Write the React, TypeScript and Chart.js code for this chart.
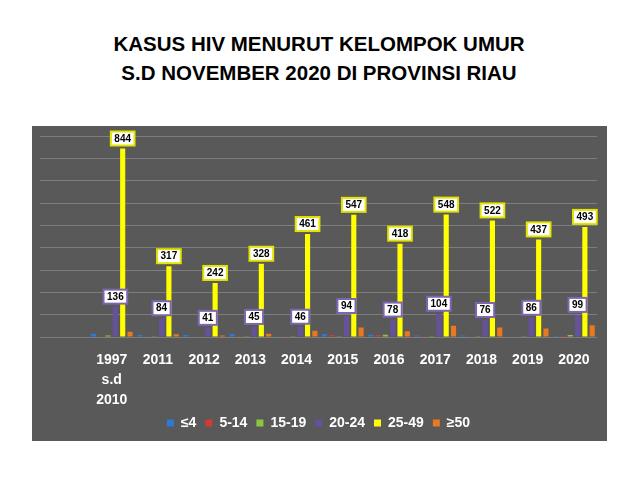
import React, { useEffect, useRef } from "react";
import { Chart, registerables } from "chart.js";

Chart.register(...registerables);

// ---- data ----
const categories: (string | string[])[] = [
  ["1997", "s.d", "2010"],
  "2011",
  "2012",
  "2013",
  "2014",
  "2015",
  "2016",
  "2017",
  "2018",
  "2019",
  "2020",
];
const seriesNames = ["≤4", "5-14", "15-19", "20-24", "25-49", "≥50"];
const ageLe4 = [15, 9, 9, 13, 3, 13, 10, 7, 7, 0, 5];
const age5to14 = [0, 3, 0, 5, 3, 9, 9, 1, 0, 0, 5];
const age15to19 = [7, 3, 0, 3, 3, 3, 10, 3, 1, 1, 9];
const age20to24 = [136, 84, 41, 45, 46, 94, 78, 104, 76, 86, 99];
const age25to49 = [844, 317, 242, 328, 461, 547, 418, 548, 522, 437, 493];
const ageGe50 = [24, 12, 7, 15, 28, 42, 26, 50, 43, 38, 53];
const yMax = 900;
const yStep = 100;
const titleLines = ["KASUS HIV MENURUT KELOMPOK UMUR", "S.D NOVEMBER 2020 DI PROVINSI RIAU"];

const seriesColors = ["#2f78d4", "#d23a36", "#8cc63f", "#65529a", "#ffff00", "#e8791f"];
const FONT = "'Liberation Sans', Arial, sans-serif";

const labelBorders: Record<number, string> = { 3: "#7d66b0", 4: "#e3e300" };

const valueBoxes = {
  id: "valueBoxes",
  afterDatasetsDraw(chart: any) {
    const ctx = chart.ctx as CanvasRenderingContext2D;
    [3, 4].forEach((di) => {
      const meta = chart.getDatasetMeta(di);
      const ds = chart.data.datasets[di];
      meta.data.forEach((bar: any, i: number) => {
        const v = ds.data[i];
        const { x, y } = bar.getProps(["x", "y"], true);
        ctx.save();
        ctx.font = `bold 10px ${FONT}`;
        const txt = String(v);
        const tw = ctx.measureText(txt).width;
        const w = tw + 7;
        const h = 14;
        const bx = x - w / 2;
        const by = y - 3 - h;
        ctx.fillStyle = "#ffffff";
        ctx.fillRect(bx, by, w, h);
        ctx.lineWidth = 2;
        ctx.strokeStyle = labelBorders[di];
        ctx.strokeRect(bx, by, w, h);
        ctx.fillStyle = "#000000";
        ctx.textAlign = "center";
        ctx.textBaseline = "middle";
        ctx.fillText(txt, x, by + h / 2 + 0.5);
        ctx.restore();
      });
    });
  },
};

export default function App() {
  const canvasRef = useRef<HTMLCanvasElement | null>(null);

  useEffect(() => {
    if (!canvasRef.current) return;
    const series = [ageLe4, age5to14, age15to19, age20to24, age25to49, ageGe50];
    const chart = new Chart(canvasRef.current, {
      type: "bar",
      data: {
        labels: categories as any,
        datasets: series.map((d, i) => ({
          label: seriesNames[i],
          data: d,
          backgroundColor: seriesColors[i],
          borderWidth: 0,
          barPercentage: 0.7,
          categoryPercentage: 0.95,
        })),
      },
      options: {
        animation: false,
        responsive: false,
        devicePixelRatio: 1,
        layout: { padding: { left: 8, right: 10, top: 10, bottom: 1 } },
        plugins: {
          legend: {
            position: "bottom",
            labels: {
              color: "#ffffff",
              boxWidth: 7,
              boxHeight: 7,
              padding: 9,
              font: { family: FONT, size: 14, weight: "bold" },
            },
          },
          tooltip: { enabled: false },
          title: { display: false },
        },
        scales: {
          x: {
            grid: { display: false, drawTicks: false },
            border: { display: false },
            afterFit: (s: any) => {
              s.height = 70;
            },
            ticks: {
              color: "#ffffff",
              padding: 13,
              maxRotation: 0,
              autoSkip: false,
              font: { family: FONT, size: 14, weight: "bold", lineHeight: 20 / 14 },
            },
          },
          y: {
            min: 0,
            max: yMax,
            border: { display: false },
            grid: {
              color: "#7d7d7d",
              lineWidth: 1,
              drawTicks: true,
              tickLength: 48.6,
            },
            ticks: { display: false, stepSize: yStep },
          },
        },
      },
      plugins: [valueBoxes],
    });
    return () => chart.destroy();
  }, []);

  return (
    <div
      style={{
        position: "absolute",
        left: 0,
        top: 0,
        width: 638,
        height: 478,
        background: "#ffffff",
        overflow: "hidden",
      }}
    >
      <div
        style={{
          position: "absolute",
          left: 0,
          top: 29,
          width: 638,
          textAlign: "center",
          fontFamily: FONT,
          fontWeight: "bold",
          fontSize: 20.5,
          lineHeight: "29px",
          color: "#000000",
        }}
      >
        {titleLines.map((t, i) => (
          <div key={i}>{t}</div>
        ))}
      </div>
      <div
        style={{
          position: "absolute",
          left: 32,
          top: 126,
          width: 575,
          height: 315,
          background: "#595959",
        }}
      >
        <canvas ref={canvasRef} width={575} height={315} style={{ display: "block" }} />
      </div>
    </div>
  );
}
